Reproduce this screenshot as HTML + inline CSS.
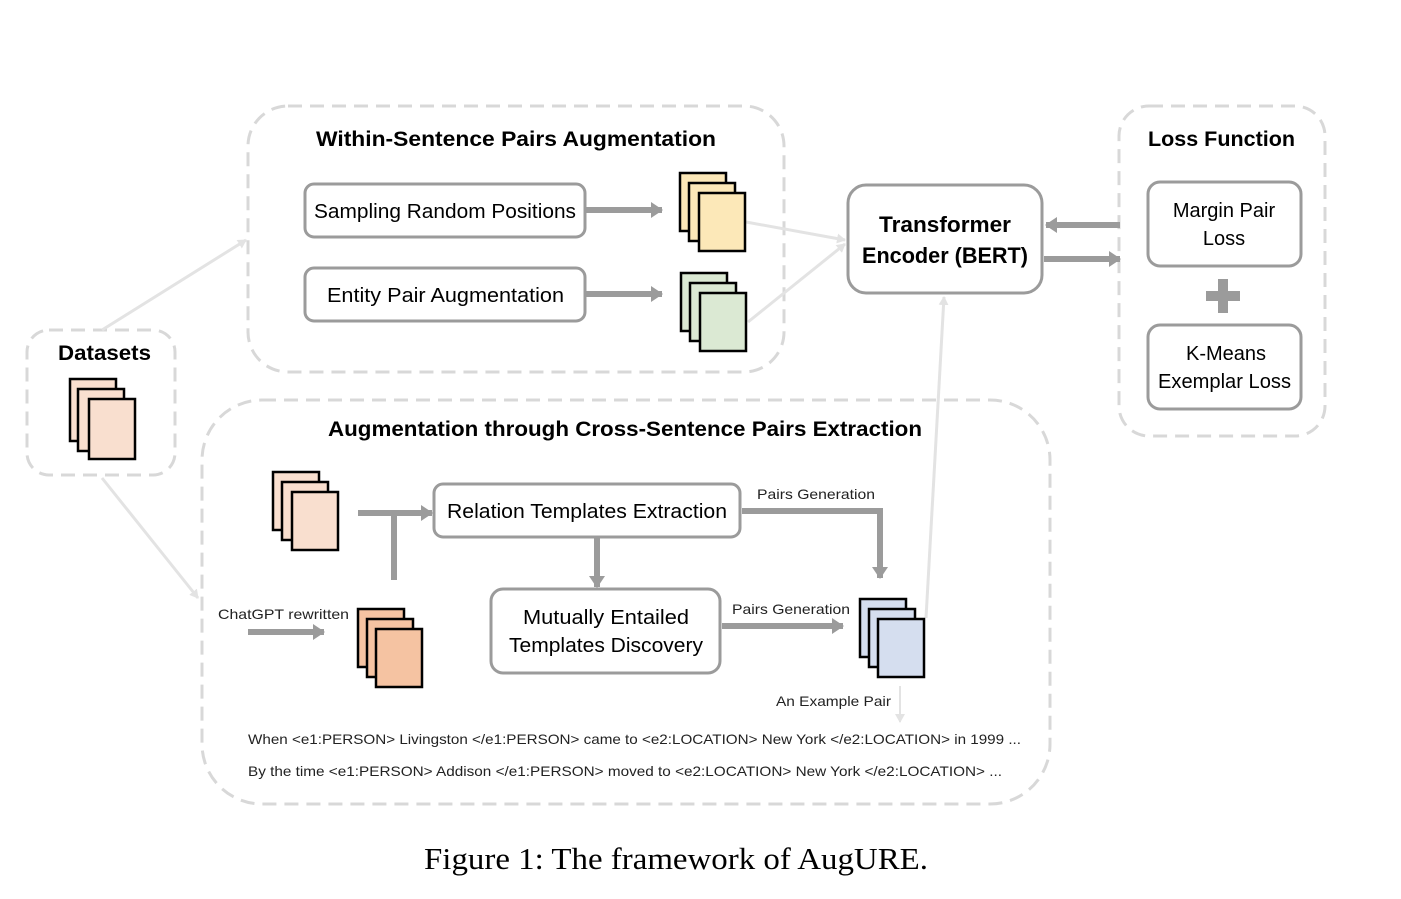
<!DOCTYPE html>
<html><head><meta charset="utf-8"><style>
body{margin:0;background:#fff;}
svg{display:block;font-family:"Liberation Sans",sans-serif;}
</style></head><body>
<svg width="1401" height="899" viewBox="0 0 1401 899" xmlns="http://www.w3.org/2000/svg">
<defs>
<marker id="al" markerWidth="10" markerHeight="10" refX="8" refY="5" orient="auto" markerUnits="userSpaceOnUse"><path d="M0,0 L9,5 L0,10z" fill="#e3e3e3"/></marker>
<marker id="ad" markerWidth="14" markerHeight="16" refX="11" refY="8" orient="auto" markerUnits="userSpaceOnUse"><path d="M0,0 L12,8 L0,16z" fill="#9b9b9b"/></marker>
</defs>
<g fill="none" stroke="#d8d8d8" stroke-width="3" stroke-dasharray="14,8">
<rect x="248" y="106" width="536" height="266" rx="40"/>
<rect x="27" y="330" width="148" height="145" rx="22"/>
<rect x="202" y="400" width="848" height="404" rx="60"/>
<rect x="1119" y="106" width="206" height="330" rx="30"/>
</g>
<g stroke="#e3e3e3" stroke-width="3" fill="none">
<line x1="102" y1="330" x2="246" y2="240" marker-end="url(#al)"/>
<line x1="102" y1="478" x2="198" y2="598" marker-end="url(#al)"/>
<line x1="746" y1="222" x2="845" y2="240" marker-end="url(#al)"/>
<line x1="748" y1="322" x2="845" y2="244" marker-end="url(#al)"/>
<line x1="926" y1="618" x2="944" y2="297" marker-end="url(#al)"/>
<line x1="900" y1="686" x2="900" y2="722" stroke-width="2" marker-end="url(#al)"/>
</g>
<g stroke="#9b9b9b" stroke-width="6" fill="none">
<line x1="586" y1="210" x2="662" y2="210" marker-end="url(#ad)"/>
<line x1="586" y1="294" x2="662" y2="294" marker-end="url(#ad)"/>
<line x1="1120" y1="225" x2="1046" y2="225" marker-end="url(#ad)"/>
<line x1="1044" y1="259" x2="1120" y2="259" marker-end="url(#ad)"/>
<line x1="394" y1="580" x2="394" y2="513"/>
<line x1="358" y1="513" x2="432" y2="513" marker-end="url(#ad)"/>
<polyline points="742,511 880,511 880,578" marker-end="url(#ad)"/>
<line x1="597" y1="538" x2="597" y2="587" marker-end="url(#ad)"/>
<line x1="722" y1="626" x2="843" y2="626" marker-end="url(#ad)"/>
<line x1="248" y1="632" x2="324" y2="632" marker-end="url(#ad)"/>
</g>
<g fill="#fff" stroke="#9b9b9b" stroke-width="3">
<rect x="305" y="184" width="280" height="53" rx="9"/>
<rect x="305" y="268" width="280" height="53" rx="9"/>
<rect x="848" y="185" width="194" height="108" rx="18"/>
<rect x="1148" y="182" width="153" height="84" rx="12"/>
<rect x="1148" y="325" width="153" height="84" rx="12"/>
<rect x="434" y="484" width="306" height="53" rx="9"/>
<rect x="491" y="589" width="229" height="84" rx="12"/>
</g>
<rect x="1206" y="291" width="34" height="10" fill="#9b9b9b"/>
<rect x="1218" y="279" width="10" height="34" fill="#9b9b9b"/>
<g stroke="#000" stroke-width="2.5">
<g fill="#fce8b8"><rect x="680" y="173" width="46" height="58"/><rect x="689" y="183" width="46" height="58"/><rect x="699" y="193" width="46" height="58"/></g>
<g fill="#dbe9d3"><rect x="681" y="273" width="46" height="58"/><rect x="690" y="283" width="46" height="58"/><rect x="700" y="293" width="46" height="58"/></g>
<g fill="#f9dfcf"><rect x="70" y="379" width="46" height="62"/><rect x="78" y="389" width="46" height="62"/><rect x="89" y="399" width="46" height="60"/></g>
<g fill="#f9dfcf"><rect x="273" y="472" width="46" height="58"/><rect x="282" y="482" width="46" height="58"/><rect x="292" y="492" width="46" height="58"/></g>
<g fill="#f5c3a2"><rect x="358" y="609" width="46" height="58"/><rect x="367" y="619" width="46" height="58"/><rect x="376" y="629" width="46" height="58"/></g>
<g fill="#d5deef"><rect x="860" y="599" width="46" height="58"/><rect x="869" y="609" width="46" height="58"/><rect x="878" y="619" width="46" height="58"/></g>
</g>
<g fill="#000" font-size="20">
<text x="316" y="146" font-weight="bold" font-size="21" textLength="400" lengthAdjust="spacingAndGlyphs">Within-Sentence Pairs Augmentation</text>
<text x="58" y="360" font-weight="bold" font-size="21" textLength="93" lengthAdjust="spacingAndGlyphs">Datasets</text>
<text x="1148" y="146" font-weight="bold" font-size="21" textLength="147" lengthAdjust="spacingAndGlyphs">Loss Function</text>
<text x="328" y="436" font-weight="bold" font-size="21" textLength="594" lengthAdjust="spacingAndGlyphs">Augmentation through Cross-Sentence Pairs Extraction</text>
<text x="314" y="218" textLength="262" lengthAdjust="spacingAndGlyphs">Sampling Random Positions</text>
<text x="327" y="302" textLength="237" lengthAdjust="spacingAndGlyphs">Entity Pair Augmentation</text>
<text x="879" y="232" font-weight="bold" font-size="22" textLength="132" lengthAdjust="spacingAndGlyphs">Transformer</text>
<text x="862" y="263" font-weight="bold" font-size="22" textLength="166" lengthAdjust="spacingAndGlyphs">Encoder (BERT)</text>
<text x="1224" y="217" text-anchor="middle">Margin Pair</text>
<text x="1224" y="245" text-anchor="middle">Loss</text>
<text x="1226" y="360" text-anchor="middle">K-Means</text>
<text x="1158" y="388" textLength="133" lengthAdjust="spacingAndGlyphs">Exemplar Loss</text>
<text x="447" y="518" textLength="280" lengthAdjust="spacingAndGlyphs">Relation Templates Extraction</text>
<text x="523" y="624" textLength="166" lengthAdjust="spacingAndGlyphs">Mutually Entailed</text>
<text x="509" y="652" textLength="194" lengthAdjust="spacingAndGlyphs">Templates Discovery</text>
</g>
<g fill="#222" font-size="14">
<text x="757" y="499" textLength="118" lengthAdjust="spacingAndGlyphs">Pairs Generation</text>
<text x="732" y="614" textLength="118" lengthAdjust="spacingAndGlyphs">Pairs Generation</text>
<text x="218" y="619" textLength="131" lengthAdjust="spacingAndGlyphs">ChatGPT rewritten</text>
<text x="776" y="706" textLength="115" lengthAdjust="spacingAndGlyphs">An Example Pair</text>
<text x="248" y="744" textLength="773" lengthAdjust="spacingAndGlyphs">When &lt;e1:PERSON&gt; Livingston &lt;/e1:PERSON&gt; came to &lt;e2:LOCATION&gt; New York &lt;/e2:LOCATION&gt; in 1999 ...</text>
<text x="248" y="776" textLength="754" lengthAdjust="spacingAndGlyphs">By the time &lt;e1:PERSON&gt; Addison &lt;/e1:PERSON&gt; moved to &lt;e2:LOCATION&gt; New York &lt;/e2:LOCATION&gt; ...</text>
</g>
<text x="424" y="869" font-family="Liberation Serif, serif" font-size="31" fill="#000" textLength="504" lengthAdjust="spacingAndGlyphs">Figure 1: The framework of AugURE.</text>
</svg>
</body></html>
